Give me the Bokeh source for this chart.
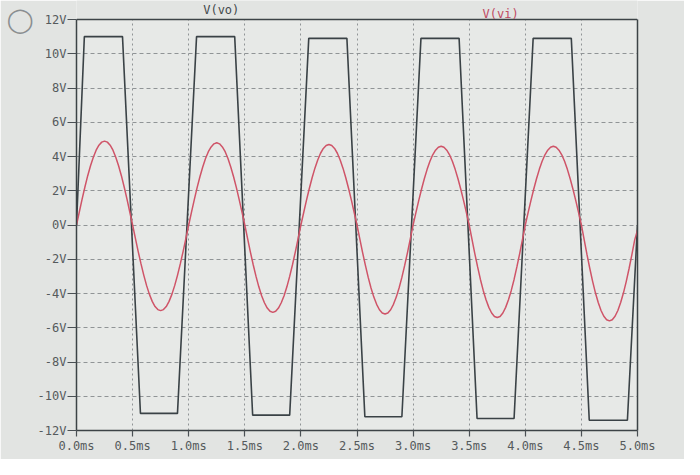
import numpy as np
from bokeh.plotting import figure
from bokeh.models import (FixedTicker, PrintfTickFormatter, Label, Range1d, LinearAxis,
                          Span, BoxAnnotation)
from bokeh.embed import file_html
from bokeh.resources import INLINE

# ---- data ----
x_ticks = [0.0, 0.5, 1.0, 1.5, 2.0, 2.5, 3.0, 3.5, 4.0, 4.5, 5.0]
y_ticks = [-12, -10, -8, -6, -4, -2, 0, 2, 4, 6, 8, 10, 12]

# V(vo): slew-limited square wave, breakpoints (ms, V)
vo_t = [0.0, 0.07, 0.41, 0.57, 0.90, 1.07, 1.41, 1.57, 1.90, 2.07, 2.41,
        2.57, 2.90, 3.07, 3.41, 3.57, 3.90, 4.07, 4.41, 4.57, 4.91, 5.0]
vo_v = [0.0, 11.0, 11.0, -11.0, -11.0, 11.0, 11.0, -11.1, -11.1, 10.9, 10.9,
        -11.2, -11.2, 10.9, 10.9, -11.3, -11.3, 10.9, 10.9, -11.4, -11.4, 0.0]

# V(vi): samples every 0.025 ms, one list per half cycle
vi_start = [0.0]
vi_h1 = [0.76, 1.51, 2.22, 2.88, 3.46, 3.96, 4.37, 4.66, 4.84, 4.90,
         4.84, 4.66, 4.37, 3.96, 3.46, 2.88, 2.22, 1.51, 0.76, 0.0]
vi_h2 = [-0.78, -1.55, -2.27, -2.94, -3.54, -4.05, -4.46, -4.76, -4.94, -5.00,
         -4.94, -4.76, -4.46, -4.05, -3.54, -2.94, -2.27, -1.55, -0.78, 0.0]
vi_h3 = [0.75, 1.48, 2.18, 2.82, 3.39, 3.88, 4.28, 4.56, 4.74, 4.80,
         4.74, 4.56, 4.28, 3.88, 3.39, 2.82, 2.18, 1.48, 0.75, 0.0]
vi_h4 = [-0.80, -1.58, -2.32, -3.00, -3.61, -4.13, -4.54, -4.85, -5.04, -5.10,
         -5.04, -4.85, -4.54, -4.13, -3.61, -3.00, -2.32, -1.58, -0.80, 0.0]
vi_h5 = [0.73, 1.45, 2.13, 2.76, 3.32, 3.80, 4.19, 4.47, 4.64, 4.70,
         4.64, 4.47, 4.19, 3.80, 3.32, 2.76, 2.13, 1.45, 0.73, 0.0]
vi_h6 = [-0.81, -1.61, -2.36, -3.06, -3.68, -4.21, -4.63, -4.95, -5.14, -5.20,
         -5.14, -4.95, -4.63, -4.21, -3.68, -3.06, -2.36, -1.61, -0.81, 0.0]
vi_h7 = [0.72, 1.42, 2.09, 2.70, 3.25, 3.72, 4.10, 4.37, 4.54, 4.60,
         4.54, 4.37, 4.10, 3.72, 3.25, 2.70, 2.09, 1.42, 0.72, 0.0]
vi_h8 = [-0.84, -1.67, -2.45, -3.18, -3.82, -4.37, -4.81, -5.14, -5.34, -5.40,
         -5.34, -5.14, -4.81, -4.37, -3.82, -3.18, -2.45, -1.67, -0.84, 0.0]
vi_h9 = [0.72, 1.42, 2.09, 2.70, 3.25, 3.72, 4.10, 4.37, 4.54, 4.60,
         4.54, 4.37, 4.10, 3.72, 3.25, 2.70, 2.09, 1.42, 0.72, 0.0]
vi_h10 = [-0.87, -1.73, -2.54, -3.29, -3.96, -4.53, -4.99, -5.33, -5.53, -5.60,
          -5.53, -5.33, -4.99, -4.53, -3.96, -3.29, -2.54, -1.73, -0.87, -0.3]
vi_v = (vi_start + vi_h1 + vi_h2 + vi_h3 + vi_h4 + vi_h5 + vi_h6 + vi_h7
        + vi_h8 + vi_h9 + vi_h10)
vi_t = np.round(np.arange(len(vi_v)) * 0.025, 3)

series_names = ["V(vo)", "V(vi)"]

MONO = "DejaVu Sans Mono"
BG = "#e2e4e2"
FRAME = "#3c4346"
Y_TOP = 13.11   # a little headroom above 12 V for the trace names

p = figure(width=684, height=459, output_backend="svg", toolbar_location=None,
           x_range=Range1d(0, 5), y_range=Range1d(-12, Y_TOP),
           min_border_left=76, min_border_right=47, min_border_top=0, min_border_bottom=29)
p.background_fill_color = "#e7e9e7"
p.border_fill_color = BG
p.outline_line_color = None

for ax in (p.xaxis, p.yaxis):
    ax.axis_line_color = FRAME
    ax.axis_line_width = 1.5
    ax.major_tick_line_color = "#4a5054"
    ax.major_tick_line_width = 1.2
    ax.minor_tick_line_color = None
    ax.major_tick_in = 0
    ax.major_label_text_font = MONO
    ax.major_label_text_font_size = "12px"
    ax.major_label_text_color = "#555a5c"

p.xaxis.ticker = FixedTicker(ticks=x_ticks)
p.yaxis.ticker = FixedTicker(ticks=y_ticks)
p.yaxis.bounds = (-12, 12)
p.xaxis.formatter = PrintfTickFormatter(format="%.1fms")
p.yaxis.formatter = PrintfTickFormatter(format="%dV")
p.xaxis.major_tick_out = 6
p.yaxis.major_tick_out = 9
p.xaxis.major_label_standoff = 2
p.yaxis.major_label_standoff = 1

p.xgrid.grid_line_color = "#909496"
p.xgrid.grid_line_dash = "2 3"
p.ygrid.grid_line_color = "#909496"
p.ygrid.grid_line_dash = "4 3"

# right border of the plot frame
p.add_layout(LinearAxis(bounds=(-12, 12), ticker=FixedTicker(ticks=[]),
                        axis_line_color=FRAME, axis_line_width=1.5,
                        major_label_text_font_size="0px"), "right")

# window icon left of the 12V label
p.add_layout(LinearAxis(ticker=FixedTicker(ticks=[12]), major_label_overrides={12: "\u25EF"},
                        axis_line_color=None, major_tick_line_color=None,
                        minor_tick_line_color=None, major_tick_out=0, major_tick_in=0,
                        major_label_standoff=1, major_label_text_font="DejaVu Sans",
                        major_label_text_font_size="24px",
                        major_label_text_color="#8a8e90"), "left")

# hide grid above the 12 V line and draw the top edge of the frame
p.add_layout(BoxAnnotation(bottom=12, fill_color=BG, fill_alpha=1.0, line_color=None,
                           level="underlay"))
p.add_layout(Span(location=12, dimension="width", line_color=FRAME, line_width=1.5))

p.line(vo_t, vo_v, line_color="#3a4246", line_width=1.6)
p.line(vi_t, vi_v, line_color="#cf5468", line_width=1.5)

p.add_layout(Label(x=1.29, y=12.53, text=series_names[0], text_align="center",
                   text_baseline="middle", text_font=MONO, text_font_size="12px",
                   text_color="#444a4c"))
p.add_layout(Label(x=3.78, y=12.30, text=series_names[1], text_align="center",
                   text_baseline="middle", text_font=MONO, text_font_size="12px",
                   text_color="#c04a62"))

open("out.html", "w").write(file_html(p, INLINE))
